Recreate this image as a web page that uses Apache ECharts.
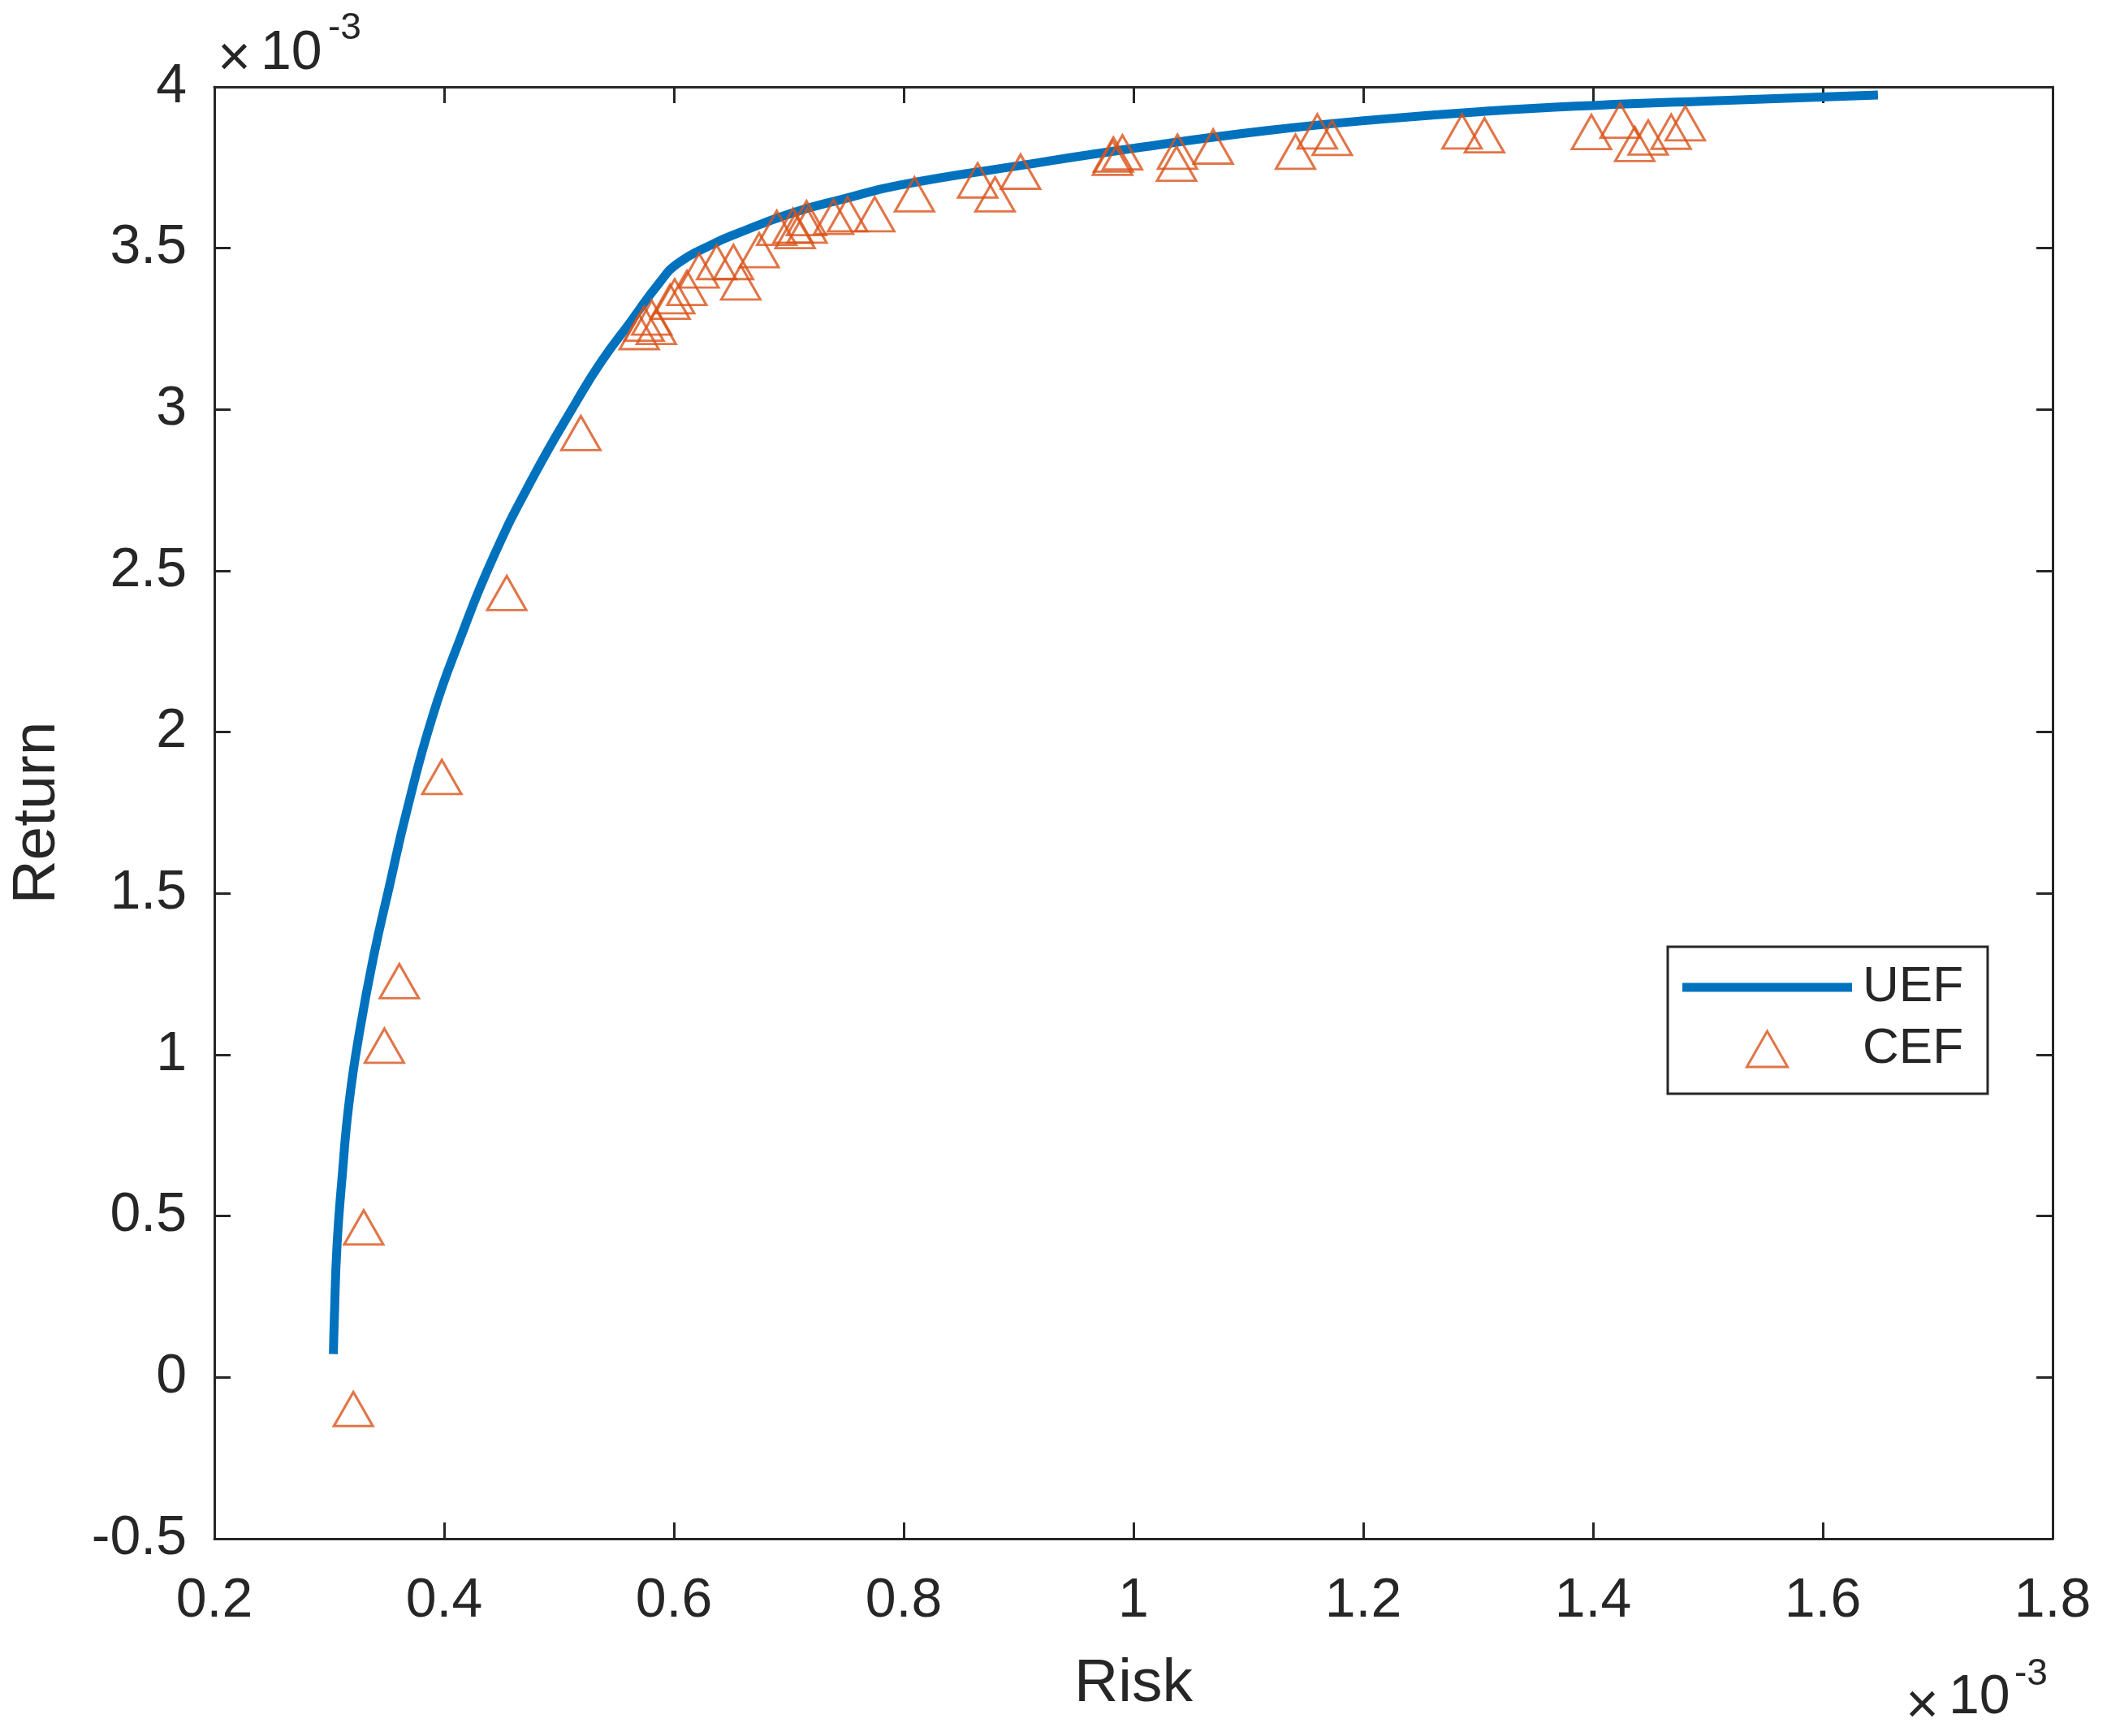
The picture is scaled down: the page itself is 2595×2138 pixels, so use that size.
<!DOCTYPE html>
<html>
<head>
<meta charset="utf-8">
<script src="https://cdn.jsdelivr.net/npm/echarts@6/dist/echarts.min.js"></script>
<style>
html,body{margin:0;padding:0;background:#fff;}
#chart{width:2595px;height:2138px;}
</style>
</head>
<body>
<div id="chart"></div>
<script>
// Values are in units of 10^-3 (as shown by the axis exponent labels)
const xTicks = { min: 0.2, max: 1.8, interval: 0.2 };
const yTicks = { min: -0.5, max: 4, interval: 0.5 };
const axisExponent = ['\u00d7', '10', '-3'];
const xLabel = 'Risk';
const yLabel = 'Return';
const seriesNames = ['UEF', 'CEF'];

// Unconstrained efficient frontier (risk, return)
const uefRisk = [0.3036, 0.3044, 0.3067, 0.3114, 0.3173, 0.3267, 0.3385, 0.3527, 0.3673, 0.390, 0.4145, 0.4423, 0.4763, 0.5155, 0.5369, 0.5621, 0.5874, 0.6038, 0.6353, 0.654, 0.701, 0.748, 0.796, 0.899, 1.007, 1.115, 1.213, 1.309, 1.403, 1.498, 1.568, 1.648];
const uefReturn = [0.072, 0.179, 0.404, 0.629, 0.853, 1.078, 1.303, 1.528, 1.753, 2.050, 2.2945, 2.5385, 2.7827, 3.0267, 3.149, 3.271, 3.393, 3.454, 3.515, 3.544, 3.607, 3.653, 3.695, 3.755, 3.813, 3.864, 3.899, 3.925, 3.943, 3.956, 3.965, 3.975];

// Constrained efficient frontier points (risk, return)
const cefRisk = [0.321, 0.330, 0.348, 0.361, 0.398, 0.4545, 0.519,
  0.5698, 0.574, 0.5847, 0.5807, 0.5967, 0.6007, 0.6113, 0.6219, 0.6372, 0.6518, 0.6582, 0.6742, 0.6895, 0.7037, 0.7055, 0.7154, 0.7159, 0.739, 0.7512, 0.7748, 0.8094,
  0.8644, 0.8795, 0.9017, 0.9818, 0.9825, 0.9904, 1.0375, 1.0383, 1.0694, 1.141, 1.160, 1.173,
  1.286, 1.3055, 1.3986, 1.4236, 1.4363, 1.448, 1.468, 1.4803];
const cefReturn = [-0.098, 0.465, 1.028, 1.228, 1.861, 2.431, 2.927,
  3.240, 3.266, 3.256, 3.285, 3.334, 3.351, 3.377, 3.431, 3.457, 3.457, 3.394, 3.494, 3.563, 3.570, 3.553, 3.593, 3.570, 3.597, 3.605, 3.605, 3.667,
  3.710, 3.667, 3.737, 3.780, 3.790, 3.797, 3.762, 3.799, 3.815, 3.799, 3.862, 3.842,
  3.862, 3.850, 3.860, 3.895, 3.823, 3.843, 3.861, 3.887];

const uefData = uefRisk.map((x, i) => [x, uefReturn[i]]);
const cefData = cefRisk.map((x, i) => [x, cefReturn[i]]);

const FONT = "'Liberation Sans', Arial, Helvetica, sans-serif";
const INK = '#262626';
const BLUE = '#0072BD';
const ORANGE = '#D95319';

const chart = echarts.init(document.getElementById('chart'), null, { renderer: 'canvas' });

const baseAxis = {
  axisLine: { show: true, onZero: false, lineStyle: { color: INK, width: 3 } },
  axisTick: { show: true, inside: true, length: 20, lineStyle: { color: INK, width: 3 } },
  splitLine: { show: false },
  axisLabel: { show: false }
};

const option = {
  animation: false,
  backgroundColor: '#ffffff',
  textStyle: { fontFamily: FONT, color: INK },
  grid: { left: 264, right: 67, top: 107, bottom: 243, containLabel: false, outerBoundsMode: 'none' },
  xAxis: [
    Object.assign({}, baseAxis, {
      type: 'value', position: 'bottom',
      min: xTicks.min, max: xTicks.max, interval: xTicks.interval,
      axisLabel: { show: true, fontSize: 68, color: INK, fontFamily: FONT, margin: 43 },
      name: xLabel, nameLocation: 'middle', nameGap: 142,
      nameTextStyle: { fontSize: 75, color: INK, fontFamily: FONT }
    }),
    Object.assign({}, baseAxis, {
      type: 'value', position: 'top',
      min: xTicks.min, max: xTicks.max, interval: xTicks.interval
    })
  ],
  yAxis: [
    Object.assign({}, baseAxis, {
      type: 'value', position: 'left',
      min: yTicks.min, max: yTicks.max, interval: yTicks.interval,
      axisLabel: { show: true, fontSize: 68, color: INK, fontFamily: FONT, margin: 34 },
      name: yLabel, nameLocation: 'middle', nameGap: 180,
      nameTextStyle: { fontSize: 75, color: INK, fontFamily: FONT }
    }),
    Object.assign({}, baseAxis, {
      type: 'value', position: 'right',
      min: yTicks.min, max: yTicks.max, interval: yTicks.interval
    })
  ],
  legend: {
    show: true,
    orient: 'vertical',
    left: 2054, top: 1166,
    padding: [19, 30, 24, 18],
    itemGap: 14,
    itemWidth: 209, itemHeight: 44,
    symbolKeepAspect: true,
    borderColor: INK, borderWidth: 3,
    backgroundColor: '#ffffff',
    selectedMode: false,
    textStyle: { fontSize: 62, color: INK, fontFamily: FONT, padding: [0, 0, 0, 8] },
    data: [
      { name: seriesNames[0], icon: 'path://M0,0L209,0L209,11L0,11Z',
        itemStyle: { color: BLUE, borderWidth: 0 } },
      { name: seriesNames[1], icon: 'path://M24,0L48,42L0,42Z',
        itemStyle: { color: 'rgba(0,0,0,0)', borderColor: ORANGE, borderWidth: 3 } }
    ]
  },
  series: [
    {
      name: seriesNames[0], type: 'line', xAxisIndex: 0, yAxisIndex: 0,
      data: uefData, showSymbol: false, symbol: 'none', smooth: 0.5,
      lineStyle: { color: BLUE, width: 11, cap: 'butt' },
      itemStyle: { color: BLUE },
      z: 2
    },
    {
      name: seriesNames[1], type: 'scatter', xAxisIndex: 0, yAxisIndex: 0,
      data: cefData, symbol: 'triangle', symbolSize: [48, 42],
      itemStyle: { color: 'rgba(0,0,0,0)', borderColor: ORANGE, borderWidth: 3 },
      z: 3
    }
  ],
  graphic: [
    { type: 'text', left: 268, top: 39, style: { text: axisExponent[0], font: '70px ' + FONT, fill: INK } },
    { type: 'text', left: 321, top: 32, style: { text: axisExponent[1], font: '68px ' + FONT, fill: INK } },
    { type: 'text', left: 404, top: 12, style: { text: axisExponent[2], font: '46px ' + FONT, fill: INK } },
    { type: 'text', left: 2347, top: 2068, style: { text: axisExponent[0], font: '70px ' + FONT, fill: INK } },
    { type: 'text', left: 2400, top: 2057, style: { text: axisExponent[1], font: '68px ' + FONT, fill: INK } },
    { type: 'text', left: 2481, top: 2039, style: { text: axisExponent[2], font: '46px ' + FONT, fill: INK } }
  ]
};

chart.setOption(option);
</script>
</body>
</html>
